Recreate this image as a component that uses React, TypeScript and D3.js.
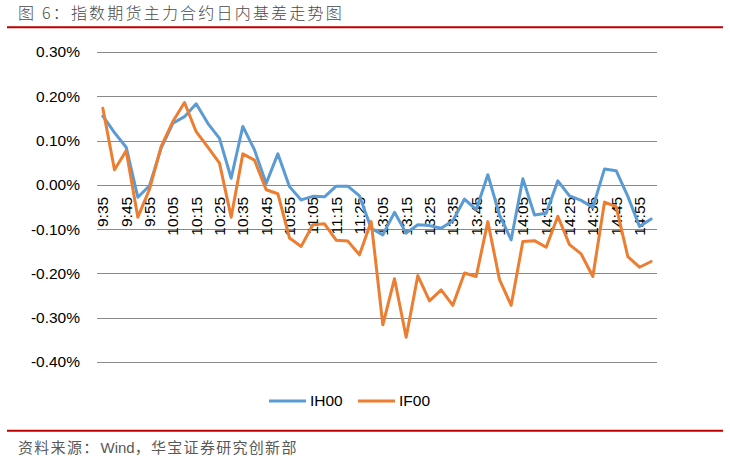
import { useEffect, useRef } from "react";
import * as d3 from "d3";

const times = [
  "9:35", "9:40", "9:45", "9:50", "9:55", "10:00", "10:05", "10:10", "10:15", "10:20", "10:25", "10:30",
  "10:35", "10:40", "10:45", "10:50", "10:55", "11:00", "11:05", "11:10", "11:15", "11:20", "11:25", "11:30",
  "13:05", "13:10", "13:15", "13:20", "13:25", "13:30", "13:35", "13:40", "13:45", "13:50", "13:55", "14:00",
  "14:05", "14:10", "14:15", "14:20", "14:25", "14:30", "14:35", "14:40", "14:45", "14:50", "14:55", "15:00",
];

// basis in percent
const ih00 = [
  0.155, 0.118, 0.085, -0.028, -0.002, 0.083, 0.139, 0.154, 0.183, 0.139, 0.105, 0.015,
  0.132, 0.079, 0.003, 0.07, -0.004, -0.034, -0.026, -0.027, -0.003, -0.003, -0.025, -0.098,
  -0.113, -0.062, -0.109, -0.09, -0.092, -0.098, -0.081, -0.032, -0.056, 0.023, -0.068, -0.124,
  0.014, -0.068, -0.064, 0.009, -0.025, -0.035, -0.051, 0.036, 0.032, -0.026, -0.094, -0.077,
];

const if00 = [
  0.173, 0.034, 0.077, -0.073, -0.01, 0.087, 0.143, 0.186, 0.12, 0.085, 0.049, -0.073,
  0.07, 0.056, -0.011, -0.02, -0.12, -0.139, -0.09, -0.088, -0.125, -0.127, -0.158, -0.083,
  -0.316, -0.212, -0.344, -0.205, -0.262, -0.237, -0.272, -0.199, -0.207, -0.083, -0.214, -0.272,
  -0.128, -0.126, -0.141, -0.071, -0.135, -0.156, -0.207, -0.039, -0.049, -0.162, -0.186, -0.173,
];

const yTicks = [0.3, 0.2, 0.1, 0, -0.1, -0.2, -0.3, -0.4];

const seriesNames = ["IH00", "IF00"];
const seriesColors = ["#5B9BD5", "#ED7D31"];

const TITLE = "图 6：指数期货主力合约日内基差走势图";
const SOURCE_PARTS = ["资料来源：", "Wind", "，华宝证券研究创新部"];

export default function App() {
  const ref = useRef<SVGSVGElement | null>(null);

  useEffect(() => {
    const svg = d3.select(ref.current);
    svg.selectAll("*").remove();

    const width = 730;
    const height = 461;
    const font = "'Liberation Sans', Arial, sans-serif";
    const cjk = "'Noto Sans CJK SC', 'Liberation Sans', sans-serif";

    svg.attr("viewBox", `0 0 ${width} ${height}`).attr("width", width).attr("height", height);

    const x = d3.scalePoint<string>().domain(times).range([97, 657]).padding(0.5);
    const y = d3.scaleLinear().domain([-0.4, 0.3]).range([362, 52]);

    // header & footer
    svg.append("text")
      .attr("x", 18)
      .attr("y", 19)
      .attr("font-family", cjk)
      .attr("font-size", 16)
      .attr("font-weight", 300)
      .attr("letter-spacing", 2.2)
      .attr("fill", "#4a4a4a")
      .text(TITLE);
    svg.append("line")
      .attr("x1", 7).attr("x2", 723)
      .attr("y1", 27.3).attr("y2", 27.3)
      .attr("stroke", "#C00000")
      .attr("stroke-width", 2);
    svg.append("line")
      .attr("x1", 7).attr("x2", 723)
      .attr("y1", 430.7).attr("y2", 430.7)
      .attr("stroke", "#C00000")
      .attr("stroke-width", 2);
    const src = svg.append("text")
      .attr("x", 18)
      .attr("y", 453)
      .attr("font-family", cjk)
      .attr("font-size", 15)
      .attr("fill", "#595959");
    SOURCE_PARTS.forEach((part, i) => {
      src.append("tspan")
        .attr("font-family", i === 1 ? font : cjk)
        .attr("letter-spacing", i === 1 ? 0 : 1.3)
        .attr("dx", i === 1 ? 1 : 0)
        .text(part);
    });

    // grid + y labels
    const grid = svg.append("g");
    grid.selectAll("line")
      .data(yTicks)
      .enter()
      .append("line")
      .attr("x1", 97).attr("x2", 657)
      .attr("y1", (d) => Math.round(y(d)) + 0.5)
      .attr("y2", (d) => Math.round(y(d)) + 0.5)
      .attr("stroke", "#898989")
      .attr("stroke-width", 1);
    grid.selectAll("text")
      .data(yTicks)
      .enter()
      .append("text")
      .attr("x", 80)
      .attr("y", (d) => y(d))
      .attr("dy", "0.35em")
      .attr("text-anchor", "end")
      .attr("font-family", font)
      .attr("font-size", 15.5)
      .attr("fill", "#000")
      .text((d) => `${d.toFixed(2)}%`);

    // category labels, every other slot
    svg.append("g")
      .selectAll("text")
      .data(times.filter((_, i) => i % 2 === 0))
      .enter()
      .append("text")
      .attr("transform", (d) => `translate(${x(d)},${y(0) + 12}) rotate(-90)`)
      .attr("dy", "0.35em")
      .attr("text-anchor", "end")
      .attr("font-family", font)
      .attr("font-size", 15.5)
      .attr("fill", "#000")
      .text((d) => d);

    const line = d3
      .line<number>()
      .x((_, i) => x(times[i]) as number)
      .y((d) => y(d));

    [ih00, if00].forEach((values, k) => {
      svg.append("path")
        .datum(values)
        .attr("d", line)
        .attr("fill", "none")
        .attr("stroke", seriesColors[k])
        .attr("stroke-width", 3)
        .attr("stroke-linejoin", "round")
        .attr("stroke-linecap", "round");
    });

    // legend
    const legendX = [269, 358];
    const lg = svg.append("g");
    seriesNames.forEach((name, k) => {
      lg.append("line")
        .attr("x1", legendX[k]).attr("x2", legendX[k] + 37)
        .attr("y1", 401).attr("y2", 401)
        .attr("stroke", seriesColors[k])
        .attr("stroke-width", 3);
      lg.append("text")
        .attr("x", legendX[k] + 41)
        .attr("y", 401)
        .attr("dy", "0.35em")
        .attr("font-family", font)
        .attr("font-size", 15.5)
        .attr("fill", "#000")
        .text(name);
    });
  }, []);

  return (
    <div style={{ position: "absolute", left: 0, top: 0, background: "#fff" }}>
      <svg ref={ref} style={{ display: "block" }} />
    </div>
  );
}
